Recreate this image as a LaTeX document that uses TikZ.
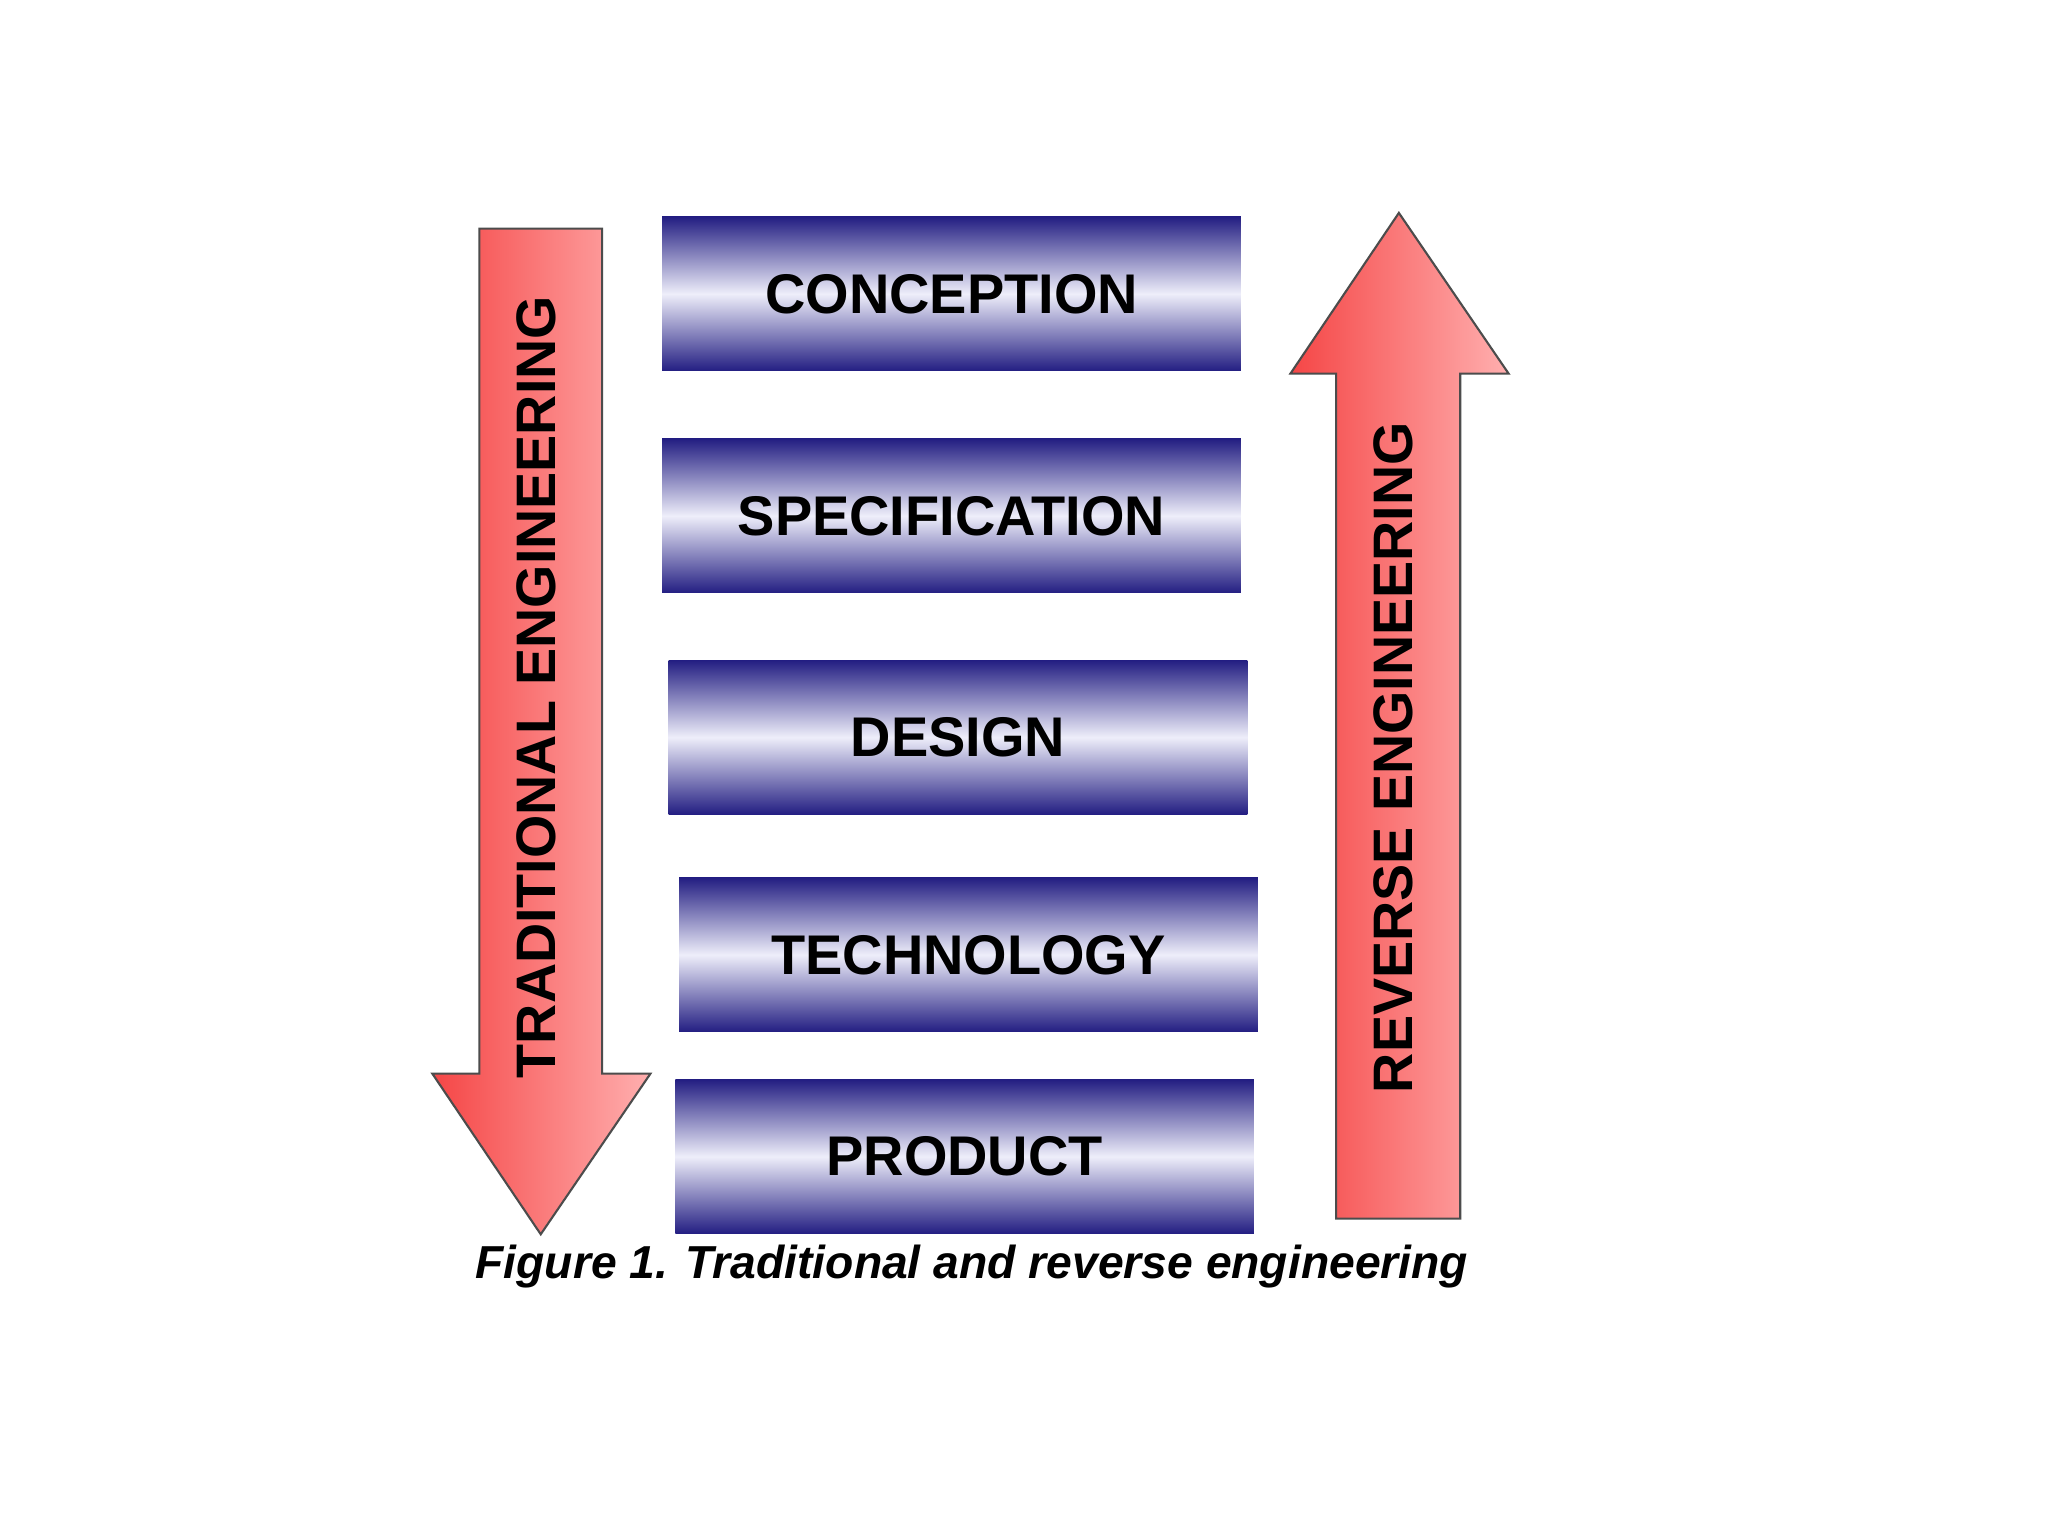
\documentclass[tikz,border=0pt]{standalone}
\usepackage{fontspec}
\setmainfont{Liberation Sans}
\begin{document}
\begin{tikzpicture}[x=0.5pt,y=-0.5pt,
  stage/.style={minimum width=221.5pt,minimum height=59pt,inner sep=0pt,
    top color=navy,bottom color=navy,middle color=lav,shading angle=0,
    font=\fontsize{21.4}{24}\selectfont\bfseries},
  redarrow/.style={draw=black!70,line width=0.8pt,left color=redd,right color=pinkl},
  arrowtxt/.style={font=\fontsize{21.3}{24}\selectfont\bfseries,inner sep=0pt}]
\definecolor{navy}{RGB}{35,30,130}
\definecolor{lav}{RGB}{238,238,250}
\definecolor{redd}{RGB}{245,70,70}
\definecolor{pinkl}{RGB}{255,175,175}
\useasboundingbox (0,0) rectangle (1568,1176);
\fill[white] (0,0) rectangle (1568,1176);
% left arrow
\path[redarrow] (367,175) -- (461,175) -- (461,822) -- (498,822) -- (414,945) -- (331,822) -- (367,822) -- cycle;
\node[arrowtxt,rotate=90] (trad) at (411,526) {TRADITIONAL ENGINEERING};
% right arrow
\path[redarrow] (1023,933) -- (1118,933) -- (1118,286) -- (1155,286) -- (1071,163) -- (988,286) -- (1023,286) -- cycle;
\node[arrowtxt,rotate=90] (rev) at (1067,580) {REVERSE ENGINEERING};
% boxes
\node[stage] (c) at (728.5,225) {CONCEPTION};
\node[stage] (s) at (728.5,395) {SPECIFICATION};
\node[stage] (d) at (733.5,564.5) {DESIGN};
\node[stage] (t) at (741.5,731) {TECHNOLOGY};
\node[stage] (p) at (738.5,885.5) {PRODUCT};
\node[font=\fontsize{17.7}{20}\selectfont\bfseries\itshape] (cap) at (744,970) {Figure 1. Traditional and reverse engineering};
\end{tikzpicture}
\end{document}
